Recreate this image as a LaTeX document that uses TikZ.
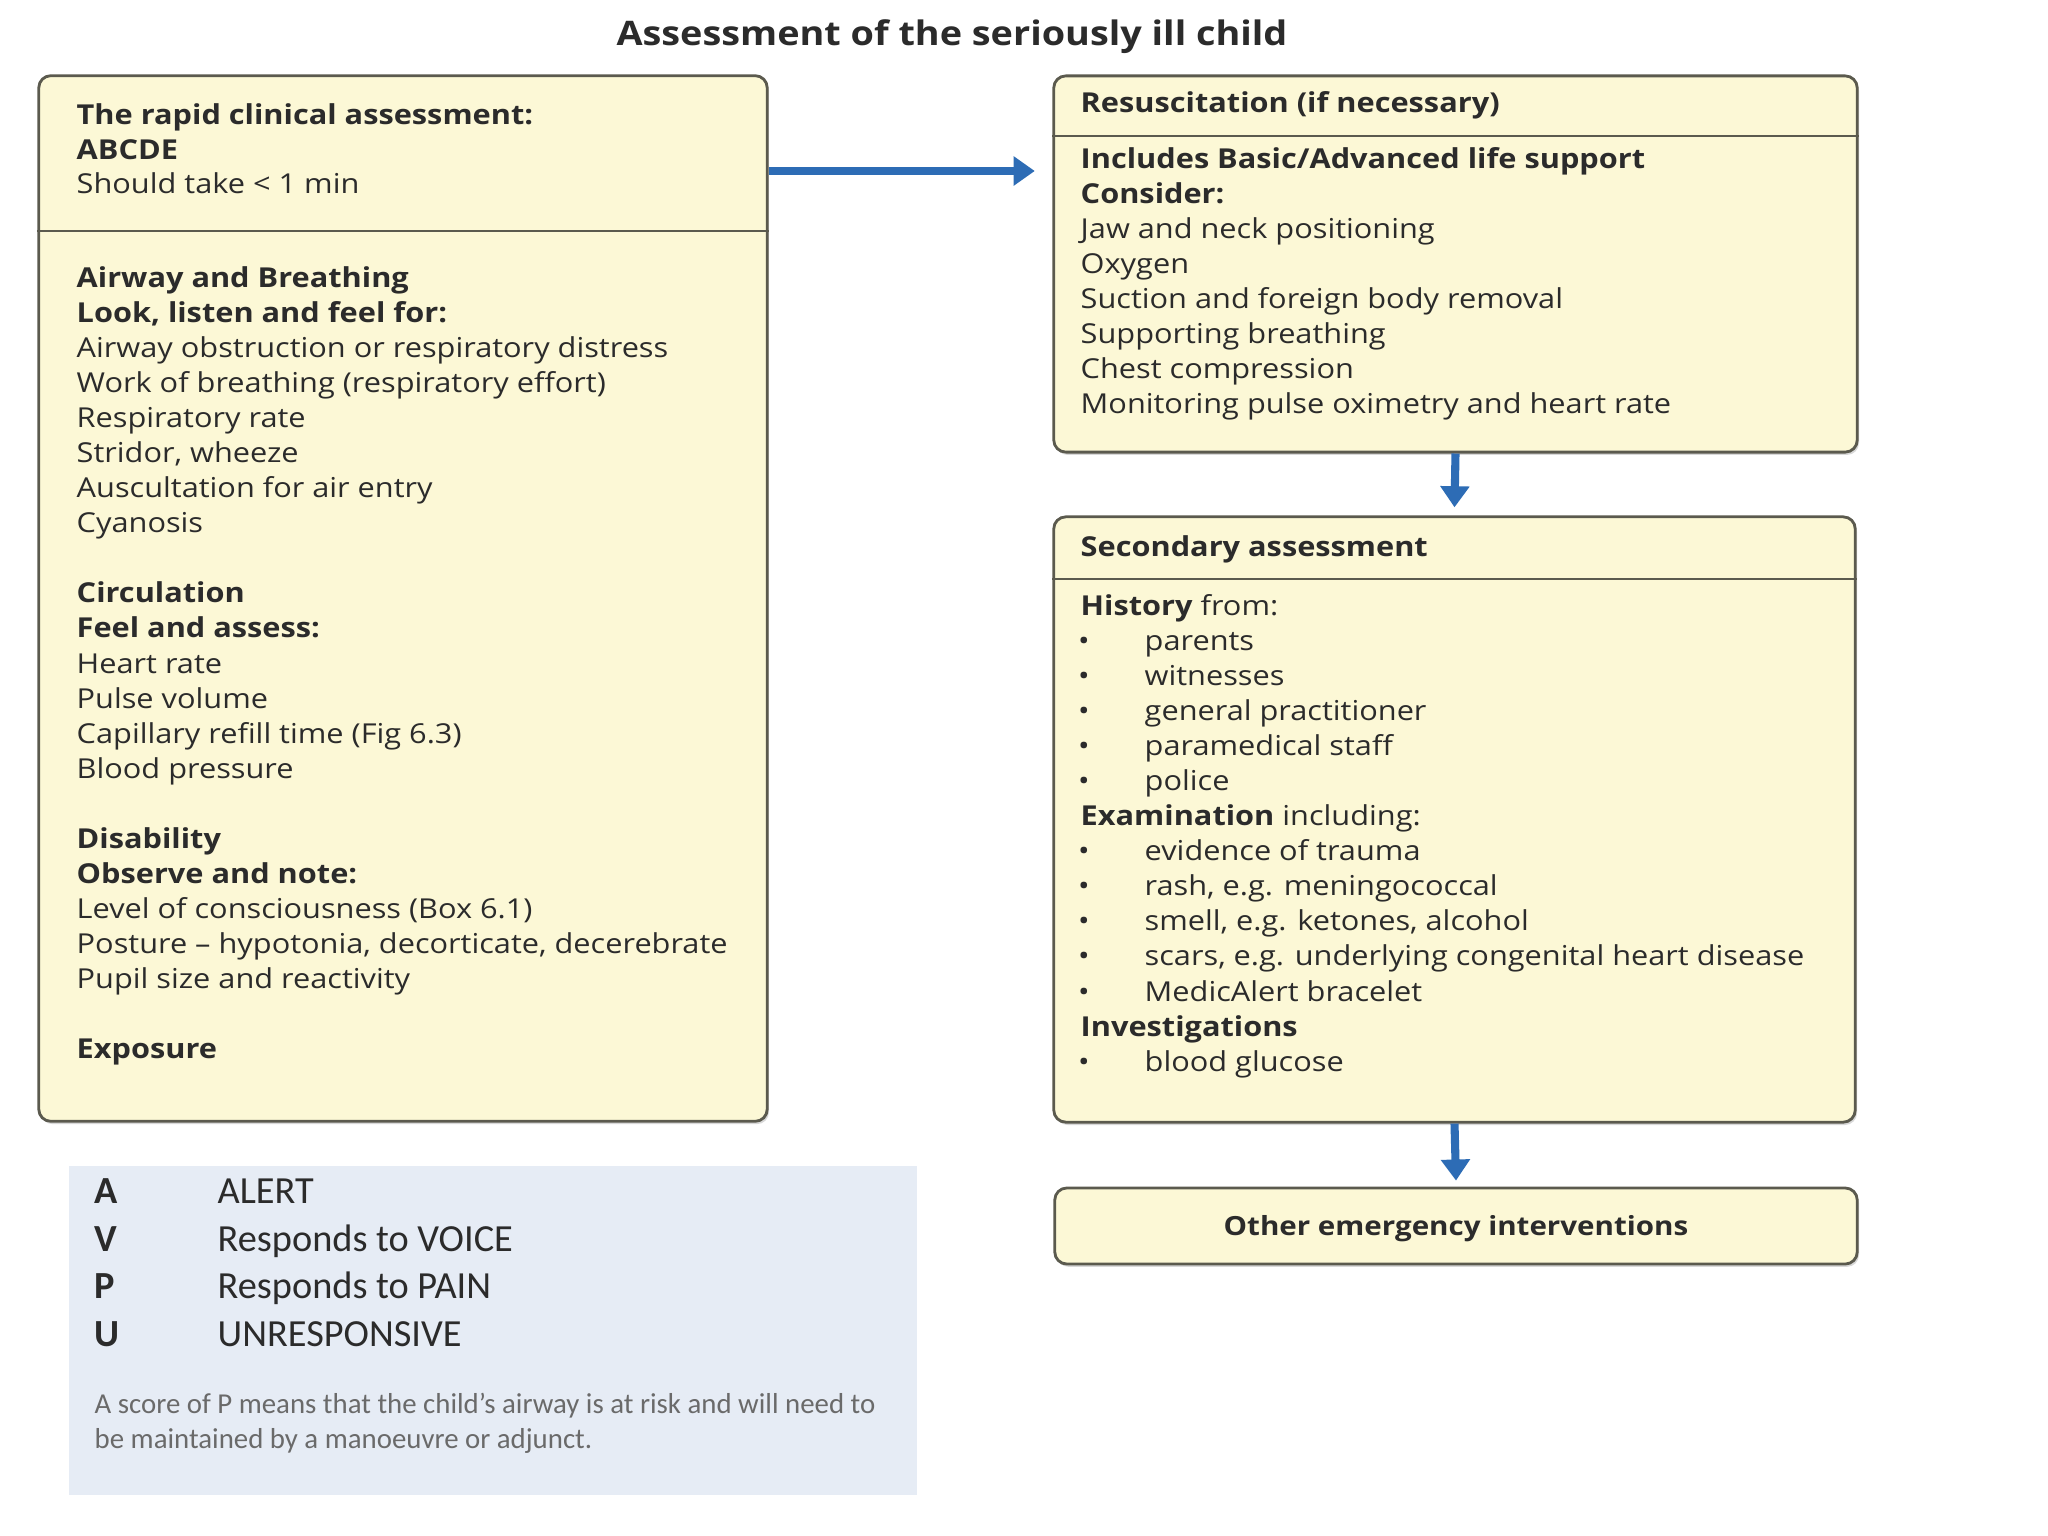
\documentclass[tikz,border=0pt]{standalone}
\usepackage{fontspec}
\setmainfont[FakeStretch=1.12]{Open Sans}
\newfontfamily\condfont{Carlito}
\usetikzlibrary{arrows.meta,shadows}
\definecolor{boxfill}{HTML}{FCF8D6}
\definecolor{boxline}{HTML}{5B5A4E}
\definecolor{arrblue}{HTML}{2D6CB5}
\definecolor{avpufill}{HTML}{E6ECF5}
\definecolor{txtcol}{HTML}{2B2B2B}
\definecolor{notecol}{HTML}{6A6A6A}
\begin{document}
\begin{tikzpicture}[x=0.01cm,y=-0.01cm,
  box/.style={draw=boxline, line width=0.8pt, fill=boxfill, rounded corners=0.12cm, inner sep=0,
    drop shadow={shadow xshift=0.5pt,shadow yshift=-0.8pt,opacity=0.3}},
  divider/.style={draw=boxline, line width=0.8pt},
  txt/.style={anchor=base west, inner sep=0, yshift=-0.6pt, text=txtcol, font=\fontsize{7.8}{9}\selectfont},
  bul/.style={anchor=base, inner sep=0, yshift=-0.6pt, text=txtcol, font=\fontsize{7.8}{9}\selectfont},
  avpu/.style={anchor=base west, inner sep=0, yshift=-0.6pt, text=txtcol, font=\condfont\fontsize{10.9}{12}\selectfont},
  note/.style={anchor=base west, inner sep=0, yshift=-0.6pt, text=notecol, font=\condfont\fontsize{8.2}{9}\selectfont},
  arr/.style={draw=arrblue, line width=2.3pt, -{Triangle[length=6pt,width=8pt]}}]
\useasboundingbox (0,0) rectangle (2048,1536);
\fill[white] (0,0) rectangle (2048,1536);

% title
\node[anchor=base, inner sep=0, text=txtcol, font=\bfseries\fontsize{9.6}{11}\selectfont] (title) at (952,45) {Assessment of the seriously ill child};

% boxes
\node[box, minimum width=7.28cm, minimum height=10.45cm] (L) at (403,598.5) {};
\node[box, minimum width=8.03cm, minimum height=3.76cm] (R) at (1455.5,264) {};
\node[box, minimum width=8.01cm, minimum height=6.05cm] (S) at (1454.5,819.5) {};
\node[box, minimum width=8.02cm, minimum height=0.76cm] (O) at (1456,1226) {};
\node[fill=avpufill, inner sep=0, minimum width=8.48cm, minimum height=3.29cm] (A) at (493,1330.5) {};

% dividers
\path[divider] (L.west |- 0,231) -- (L.east |- 0,231);
\path[divider] (R.west |- 0,136) -- (R.east |- 0,136);
\path[divider] (S.west |- 0,579) -- (S.east |- 0,579);

% left box text
\node[txt] (l1) at (76,122) {\bfseries The rapid clinical assessment:};
\node[txt] (l2) at (76,157) {\bfseries ABCDE};
\node[txt] (l3) at (76,191) {Should take < 1 min};
\foreach \t [count=\i from 0] in {\textbf{Airway and Breathing},\textbf{Look, listen and feel for:},
  Airway obstruction or respiratory distress,Work of breathing (respiratory effort),Respiratory rate,
  {Stridor, wheeze},Auscultation for air entry,Cyanosis}
  \node[txt] (ab\i) at (76,285+\i*35.08) {\t};
\foreach \t [count=\i from 9] in {\textbf{Circulation},\textbf{Feel and assess:},Heart rate,Pulse volume,
  Capillary refill time (Fig 6.3),Blood pressure}
  \node[txt] (ci\i) at (76,285+\i*35.08) {\t};
\foreach \t [count=\i from 16] in {\textbf{Disability},\textbf{Observe and note:},Level of consciousness (Box 6.1),
  {Posture – hypotonia, decorticate, decerebrate},Pupil size and reactivity}
  \node[txt] (di\i) at (76,285+\i*35.08) {\t};
\node[txt] (ex) at (76,285+22*35.08) {\bfseries Exposure};

% resuscitation text
\node[txt] (rh) at (1080,110) {\bfseries Resuscitation (if necessary)};
\foreach \t [count=\i from 0] in {\textbf{Includes Basic/Advanced life support},\textbf{Consider:},
  Jaw and neck positioning,Oxygen,Suction and foreign body removal,Supporting breathing,
  Chest compression,Monitoring pulse oximetry and heart rate}
  \node[txt] (r\i) at (1080,166+\i*35.08) {\t};

% secondary text
\node[txt] (sh) at (1080,554) {\bfseries Secondary assessment};
\node[txt] (s0) at (1080,613) {\textbf{History} from:};
\foreach \t [count=\i from 1] in {parents,witnesses,general practitioner,paramedical staff,police}
  {\node[bul] (sb\i) at (1084,613+\i*35.08) {•};
   \node[txt] (s\i) at (1144,613+\i*35.08) {\t};}
\node[txt] (s6) at (1080,613+6*35.08) {\textbf{Examination} including:};
\foreach \t [count=\i from 7] in {evidence of trauma,{rash, e.g. meningococcal},{smell, e.g. ketones, alcohol},
  {scars, e.g. underlying congenital heart disease},MedicAlert bracelet}
  {\node[bul] (sb\i) at (1084,613+\i*35.08) {•};
   \node[txt] (s\i) at (1144,613+\i*35.08) {\t};}
\node[txt] (s12) at (1080,613+12*35.08) {\bfseries Investigations};
\node[bul] (sb13) at (1084,613+13*35.08) {•};
\node[txt] (s13) at (1144,613+13*35.08) {blood glucose};

% other
\node[anchor=base, inner sep=0, yshift=-0.6pt, text=txtcol, font=\bfseries\fontsize{7.5}{9}\selectfont] (ot) at (1456,1233) {Other emergency interventions};

% AVPU
\foreach \l/\w [count=\i from 0] in {A/ALERT,V/Responds to VOICE,P/Responds to PAIN,U/UNRESPONSIVE}
  {\node[avpu, font=\condfont\bfseries\fontsize{10.9}{12}\selectfont] (av\i) at (94,1201+\i*47.9) {\l};
   \node[avpu] (aw\i) at (217,1201+\i*47.9) {\w};}
\node[note] (n1) at (94,1411) {A score of P means that the child’s airway is at risk and will need to};
\node[note] (n2) at (94,1446) {be maintained by a manoeuvre or adjunct.};

% arrows
\draw[arr] (L.east |- 0,171) -- ([xshift=-5pt]R.west |- 0,171);
\draw[arr] (R.south) -- ([yshift=2.3pt]S.north);
\draw[arr] (S.south) -- ([yshift=1.7pt]O.north);
\end{tikzpicture}
\end{document}
